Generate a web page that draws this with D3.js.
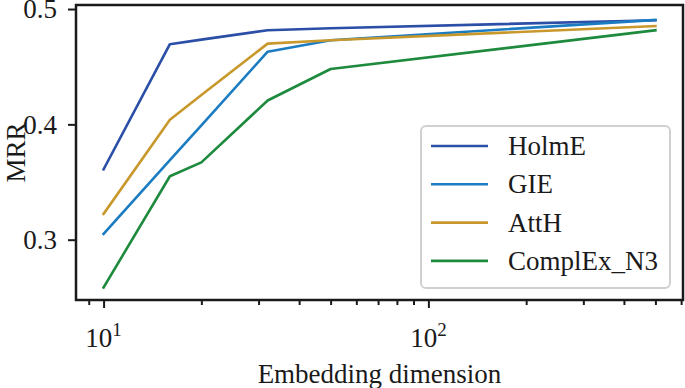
<!DOCTYPE html>
<html>
<head>
<meta charset="utf-8">
<script src="https://cdn.jsdelivr.net/npm/d3@7"></script>
<style>
  html, body { margin: 0; padding: 0; background: #fff; }
  svg { display: block; }
  text { font-family: "Liberation Serif", "Times New Roman", "DejaVu Serif", serif; fill: #1a1a1a; }
</style>
</head>
<body>
<svg id="chart" width="685" height="388"></svg>
<script>
// ---- data ----
const dims = [10, 16, 20, 32, 50, 500];
const holmE   = [0.361, 0.4695, 0.4735, 0.4816, 0.4833, 0.4903];
const gie     = [0.305, 0.369, 0.3992, 0.4630, 0.4730, 0.4905];
const attH    = [0.3224, 0.404, 0.4255, 0.4700, 0.4730, 0.4853];
const complEx = [0.2586, 0.355, 0.367, 0.4207, 0.4480, 0.4816];
const seriesNames = ["HolmE", "GIE", "AttH", "ComplEx_N3"];
const seriesColors = ["#2b4ea6", "#1c7cc2", "#c8982c", "#1d8a3d"];
const seriesValues = [holmE, gie, attH, complEx];
const yTicks = [0.3, 0.4, 0.5];
const xMajorTicks = [10, 100];
const xMajorExp = ["1", "2"];
const xMinorTicks = [9, 20, 30, 40, 50, 60, 70, 80, 90, 200, 300, 400, 500, 600];
const xLabel = "Embedding dimension";
const yLabel = "MRR";

// ---- layout ----
const svg = d3.select("#chart");
const plot = { left: 76, right: 683, top: 5, bottom: 300 };
const fontSize = 27;

const logMin = Math.log10(d3.min(dims)), logMax = Math.log10(d3.max(dims));
const lm = 0.05 * (logMax - logMin);
const x = d3.scaleLog()
  .domain([Math.pow(10, logMin - lm), Math.pow(10, logMax + lm)])
  .range([plot.left, plot.right]);
const y = d3.scaleLinear()
  .domain([0.2477, 0.5035])
  .range([plot.bottom, plot.top]);

// ---- lines ----
const line = d3.line().x(d => x(d[0])).y(d => y(d[1]));
seriesValues.forEach((vals, i) => {
  svg.append("path")
    .datum(dims.map((d, j) => [d, vals[j]]))
    .attr("d", line)
    .attr("fill", "none")
    .attr("stroke", seriesColors[i])
    .attr("stroke-width", 2.6)
    .attr("stroke-linejoin", "round")
    .attr("stroke-linecap", "square");
});

// ---- axes ----
const xAxis = d3.axisBottom(x).tickValues(xMajorTicks).tickSize(8).tickFormat("");
const xMinor = d3.axisBottom(x).tickValues(xMinorTicks).tickSize(5).tickFormat("");
const yAxis = d3.axisLeft(y).tickValues(yTicks).tickSize(8).tickFormat(d3.format(".1f"));

const gx = svg.append("g").attr("transform", `translate(0,${plot.bottom})`).call(xAxis);
const gxm = svg.append("g").attr("transform", `translate(0,${plot.bottom})`).call(xMinor);
const gy = svg.append("g").attr("transform", `translate(${plot.left},0)`).call(yAxis);
[gx, gxm, gy].forEach(g => {
  g.select(".domain").remove();
  g.selectAll(".tick line").attr("stroke", "#1a1a1a").attr("stroke-width", 2);
});
gy.selectAll(".tick text")
  .attr("x", -19)
  .attr("dy", "0.33em")
  .style("font-size", fontSize + "px")
  .style("font-family", '"Liberation Serif", serif')
  .attr("fill", "#1a1a1a");

// x major labels with superscripts
xMajorTicks.forEach((t, i) => {
  const tx = svg.append("text")
    .attr("x", x(t))
    .attr("y", 347)
    .attr("text-anchor", "middle")
    .style("font-size", fontSize + "px");
  tx.append("tspan").text("10");
  tx.append("tspan").attr("dy", -11).style("font-size", "19px").text(xMajorExp[i]);
});

// frame
svg.append("rect")
  .attr("x", plot.left).attr("y", plot.top)
  .attr("width", plot.right - plot.left).attr("height", plot.bottom - plot.top)
  .attr("fill", "none").attr("stroke", "#1a1a1a").attr("stroke-width", 2.5);

// axis labels
svg.append("text")
  .attr("x", (plot.left + plot.right) / 2)
  .attr("y", 383)
  .attr("text-anchor", "middle")
  .style("font-size", fontSize + "px")
  .text(xLabel);
svg.append("text")
  .attr("transform", `translate(25,${(plot.top + plot.bottom) / 2}) rotate(-90)`)
  .attr("text-anchor", "middle")
  .style("font-size", fontSize + "px")
  .text(yLabel);

// ---- legend ----
const leg = { x: 421, y: 126, w: 249, h: 162 };
svg.append("rect")
  .attr("x", leg.x).attr("y", leg.y).attr("width", leg.w).attr("height", leg.h)
  .attr("rx", 5).attr("ry", 5)
  .attr("fill", "#fff").attr("fill-opacity", 0.85)
  .attr("stroke", "#d0d0d0").attr("stroke-width", 2);
seriesNames.forEach((name, i) => {
  const cy = leg.y + 20 + i * 38.3;
  svg.append("line")
    .attr("x1", leg.x + 10).attr("x2", leg.x + 67)
    .attr("y1", cy).attr("y2", cy)
    .attr("stroke", seriesColors[i]).attr("stroke-width", 2.6);
  svg.append("text")
    .attr("x", leg.x + 87).attr("y", cy + 9)
    .style("font-size", fontSize + "px")
    .text(name);
});
</script>
</body>
</html>
